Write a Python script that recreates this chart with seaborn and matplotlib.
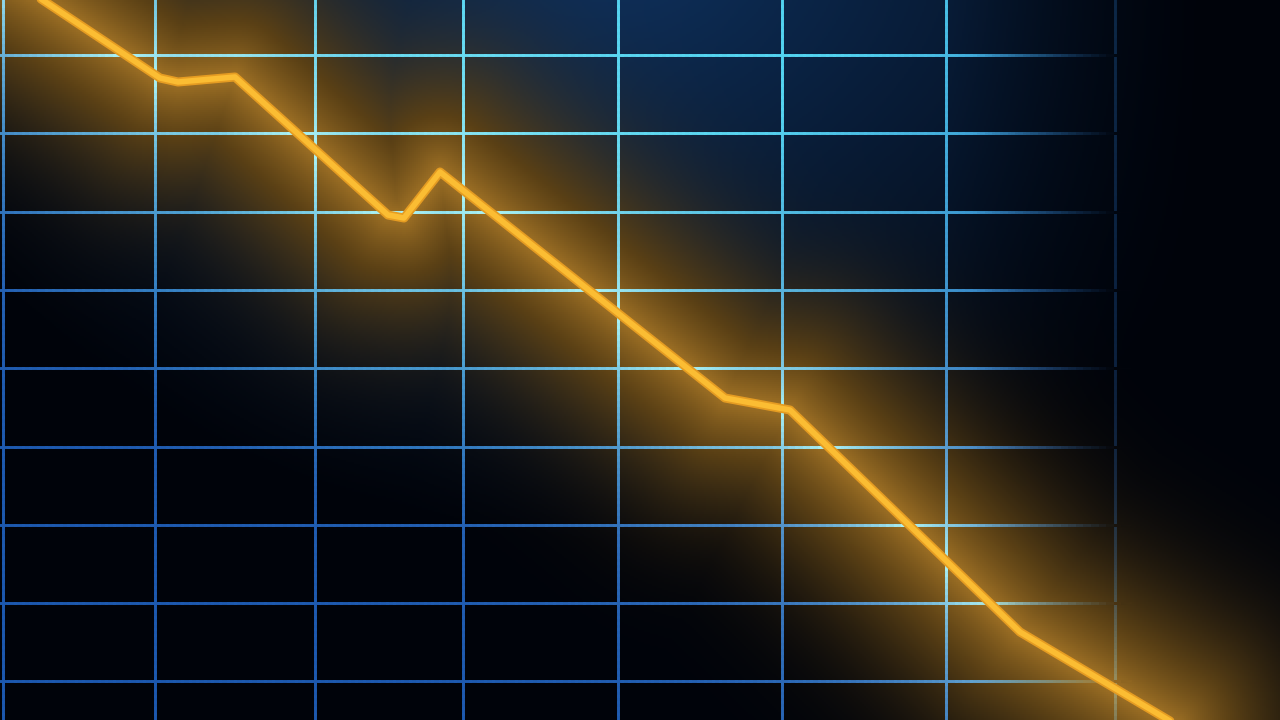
import numpy as np
import pandas as pd
import seaborn as sns
import matplotlib.pyplot as plt
from matplotlib.collections import LineCollection

sns.set_theme(style="dark")

# falling price path (screen units, y up)
time_pos = [20, 160, 178, 235, 388, 404, 440, 725, 790, 1020, 1175]
price = [735, 642, 638, 643, 505, 502, 548, 322, 310, 88, -4]

# grid line positions
grid_x = [3, 155, 315, 463, 618, 782, 946, 1115]
grid_y = [665, 587, 508, 430, 352, 273, 195, 117, 39]

W, H = 1280, 720
df = pd.DataFrame({"time": time_pos, "price": price})


def dist_to_path(px, py, xs, ys):
    d = np.full(np.shape(px), np.inf)
    for x0, y0, x1, y1 in zip(xs[:-1], ys[:-1], xs[1:], ys[1:]):
        dx, dy = x1 - x0, y1 - y0
        t = ((px - x0) * dx + (py - y0) * dy) / (dx * dx + dy * dy)
        t = np.clip(t, 0, 1)
        d = np.minimum(d, np.hypot(px - (x0 + t * dx), py - (y0 + t * dy)))
    return d


def bg_level(x, y):
    sy = H - y
    f = np.clip(1 - np.hypot((x - 620) / 760, (sy + 60) / 600), 0, 1) ** 1.1
    f = f * (1 - np.clip((x - 950) / 260, 0, 1))
    return f


# background + glow image (2px cells)
gx, gy = np.meshgrid(np.arange(0, W, 2) + 1, np.arange(0, H, 2) + 1)
f = bg_level(gx, gy)
navy = np.array([15, 50, 95]) / 255
dark = np.array([0, 3, 10]) / 255
img = dark + (navy - dark) * f[..., None]
d = dist_to_path(gx, gy, time_pos, price)
g = 0.4 * np.exp(-d / 40) + 0.5 * np.exp(-(d / 120) ** 2)
glow_col = np.array([180, 128, 42]) / 255
keep = np.clip(1 - 2.0 * g, 0, 1)
img = np.clip(img * keep[..., None] + glow_col * g[..., None], 0, 1)

fig = plt.figure(figsize=(12.8, 7.2), dpi=100)
ax = fig.add_axes([0, 0, 1, 1])
ax.imshow(img, extent=[0, W, 0, H], origin="lower", aspect="auto", zorder=0)

dim_blue = np.array([28, 88, 175]) / 255
bright_blue = np.array([80, 210, 240]) / 255
cyan = np.array([175, 245, 245]) / 255


def grid_segments(xs, ys, fade):
    mx, my = (xs[:-1] + xs[1:]) / 2, (ys[:-1] + ys[1:]) / 2
    lvl = np.clip(bg_level(mx, my) * 1.6, 0, 1)
    w = np.exp(-dist_to_path(mx, my, time_pos, price) / 90)
    base = dim_blue + (bright_blue - dim_blue) * lvl[:, None]
    c = base + (cyan - base) * w[:, None]
    # fade into whatever is underneath
    ix = np.clip((mx / 2).astype(int), 0, img.shape[1] - 1)
    iy = np.clip((my / 2).astype(int), 0, img.shape[0] - 1)
    under = img[iy, ix]
    a = np.clip(fade(mx), 0, 1)
    c = under + (c - under) * a[:, None]
    segs = [[(xs[i], ys[i]), (xs[i + 1], ys[i + 1])] for i in range(len(mx))]
    return segs, [tuple(ci) for ci in c]


all_segs, all_cols = [], []
for x in grid_x:
    ys = np.linspace(0, H, 120)
    xs = np.full_like(ys, x)
    s, c = grid_segments(xs, ys, lambda m: np.full_like(m, 0.3 if x > 1100 else 1.0))
    all_segs += s
    all_cols += c
for y in grid_y:
    xs = np.linspace(0, 1130, 150)
    ys = np.full_like(xs, y)
    s, c = grid_segments(xs, ys, lambda m: np.clip((1115 - m) / 140, 0, 1))
    all_segs += s
    all_cols += c
ax.add_collection(LineCollection(all_segs, colors=all_cols, linewidths=2.1,
                                 capstyle="projecting", zorder=2))

# glowing line
sns.lineplot(data=df, x="time", y="price", sort=False, ax=ax, color="#e59c22",
             linewidth=6.5, solid_joinstyle="round", solid_capstyle="round", zorder=4)
sns.lineplot(data=df, x="time", y="price", sort=False, ax=ax, color="#fbbd33",
             linewidth=4, solid_joinstyle="round", solid_capstyle="round", zorder=5)

ax.set_xlim(0, W)
ax.set_ylim(0, H)
ax.set_axis_off()
fig.savefig("out.png", dpi=100)
